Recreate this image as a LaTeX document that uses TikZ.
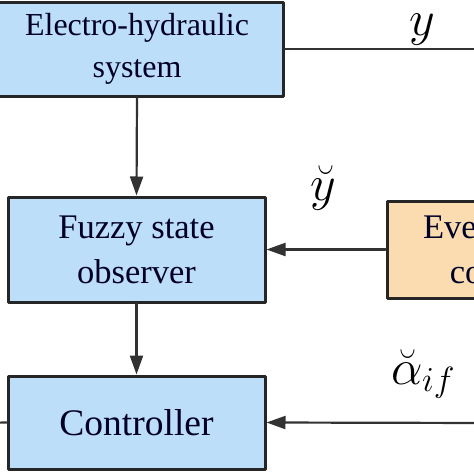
\documentclass[tikz,border=0pt]{standalone}
\usepackage{fix-cm}
\usepackage{fontspec}
\setmainfont{Liberation Serif}
\usetikzlibrary{arrows.meta}
\definecolor{boxblue}{RGB}{189,222,248}
\definecolor{boxorange}{RGB}{251,220,176}
\definecolor{linegray}{RGB}{50,50,50}
\begin{document}
\begin{tikzpicture}[x=1pt, y=-1pt, line cap=round, line join=round, >={Triangle[length=19pt,width=13pt]}]
			\tikzset{block style/.style={draw=black!85, line width=3pt, fill=boxblue, inner sep=0pt, align=center, text=black!85!blue},
				signal style/.style={draw=linegray, line width=2.2pt},
				label style/.style={font=\fontsize{50}{50}\selectfont}}
			\clip (0,0) rectangle (474,474);
			\fill[white] (0,0) rectangle (474,474);
			\node[block style, minimum width=292pt, minimum height=94pt, font=\fontsize{32}{42}\selectfont] (sys) at (137,49) {Electro-hydraulic\\system};
			\node[block style, minimum width=257pt, minimum height=105pt, font=\fontsize{34.5}{45}\selectfont] (obs) at (136.5,249.5) {Fuzzy state\\observer};
			\node[block style, fill=boxorange, minimum width=256pt, minimum height=97pt, font=\fontsize{34.5}{45}\selectfont] (evt) at (515,249.5) {Event-trigger\\condition};
			\node[block style, minimum width=257pt, minimum height=93pt, font=\fontsize{37.5}{45}\selectfont] (ctrl) at (136.5,422.5) {Controller};
			\coordinate (yout) at (490,49);
			\coordinate (ain) at (490,423);
			\coordinate (uout) at (-20,423);
			\draw[signal style] (sys.east) -- (yout);
			\draw[signal style, ->] (sys.south) -- (obs.north);
			\draw[signal style, ->] (evt.west) -- (obs.east);
			\draw[signal style, ->] (obs.south) -- (ctrl.north);
			\draw[signal style, ->] (ain) -- (ctrl.east);
			\draw[signal style] (ctrl.west) -- (uout);
			\node[label style] (ylab) at (422,30) {$y$};
			\node[label style] (ybrlab) at (323,188) {$\breve{y}$};
			\node[label style] (alab) at (423,374) {$\breve{\alpha}_{if}$};
		\end{tikzpicture}
\end{document}
